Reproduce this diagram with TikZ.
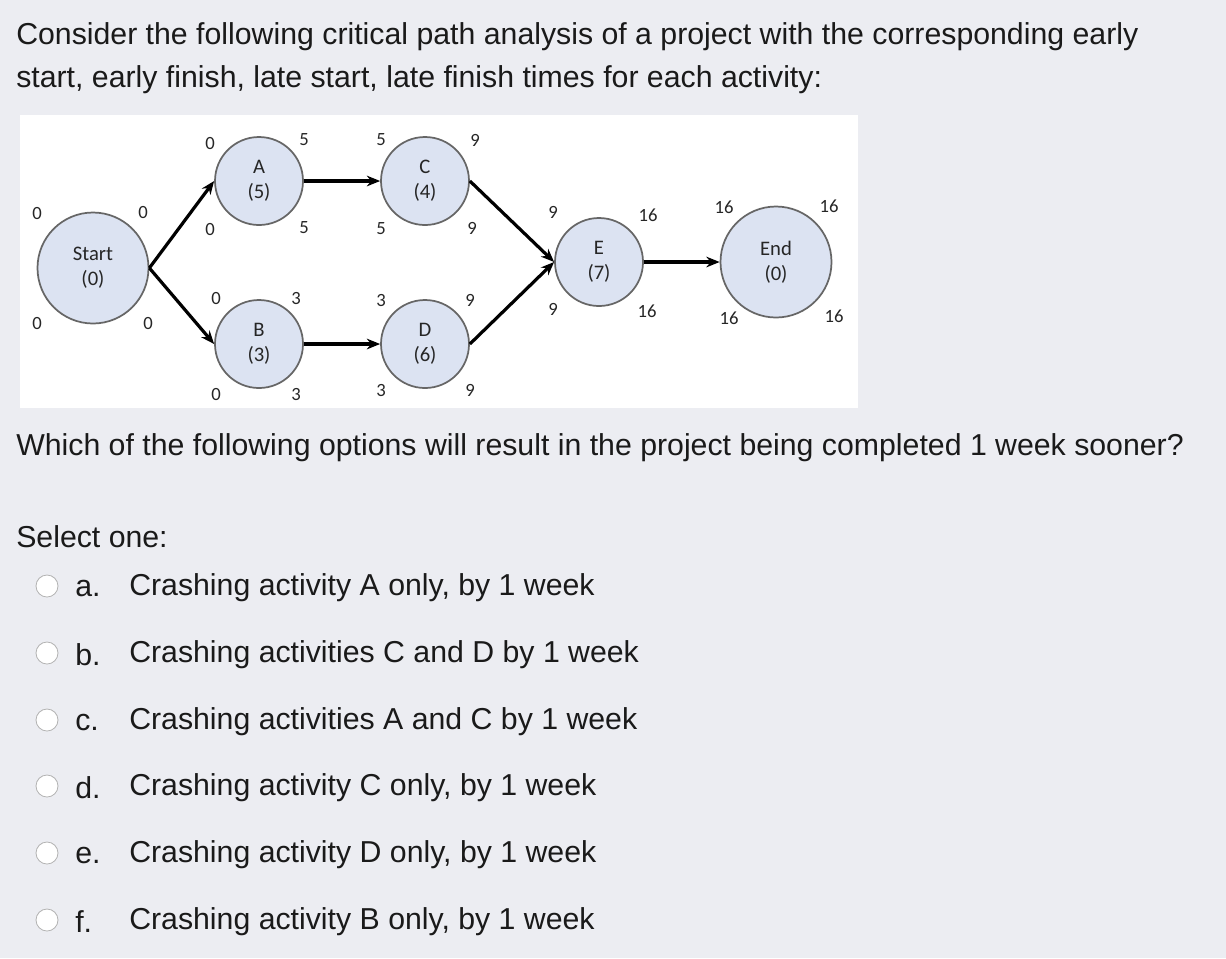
\documentclass[tikz,border=0pt]{standalone}
\usepackage{fontspec}
\setmainfont{Liberation Sans}
\newfontfamily\diag{Carlito}
\usetikzlibrary{arrows.meta}
\definecolor{pagebg}{HTML}{ECEDF2}
\definecolor{nodefill}{HTML}{DCE3F2}
\definecolor{txt}{HTML}{1A1A1A}
\begin{document}
\begin{tikzpicture}[x=0.75pt,y=-0.75pt,
  act/.style={circle,draw=black!60,line width=1.3pt,fill=nodefill,minimum size=#1*0.75pt,inner sep=0pt,align=center,font=\diag\fontsize{15.5}{19}\selectfont,text=black!85},
  num/.style={font=\diag\fontsize{14}{16}\selectfont,text=black!85,inner sep=0pt},
  arr/.style={-{Stealth[length=10pt,width=8pt]},line width=2.4pt},
  qtext/.style={anchor=west,inner sep=0pt,font=\fontsize{22.7}{26}\selectfont,text=txt},
  radio/.style={circle,draw=black!30,fill=white,line width=0.6pt,minimum size=16.5pt,inner sep=0pt}]
\fill[pagebg] (0,0) rectangle (1226,958);
\useasboundingbox (0,0) rectangle (1226,958);
\fill[white] (20,115) rectangle (858,408);
\node[qtext] (l1) at (16,37) {Consider the following critical path analysis of a project with the corresponding early};
\node[qtext] (l2) at (16,80) {start, early finish, late start, late finish times for each activity:};
% nodes
\node[act=111] (S) at (93,268) {Start\\(0)};
\node[act=88] (A) at (259,181) {A\\(5)};
\node[act=88] (C) at (425,181) {C\\(4)};
\node[act=88] (B) at (259,344) {B\\(3)};
\node[act=88] (D) at (425,344) {D\\(6)};
\node[act=88] (E) at (599,262) {E\\(7)};
\node[act=111] (N) at (776,262) {End\\(0)};
\draw[arr] (S.east) -- (A.west);
\draw[arr] (S.east) -- (B.west);
\draw[arr] (A.east) -- (C.west);
\draw[arr] (B.east) -- (D.west);
\draw[arr] (C.east) -- (E.west);
\draw[arr] (D.east) -- (E.west);
\draw[arr] (E.east) -- (N.west);
% numbers
\foreach \t/\x/\y [count=\i] in {0/37/213,0/143/212,0/37/323,0/148/323,
 0/210/143,5/304/140,0/210/229,5/304/228,
 5/381/140,9/475/140,5/381/229,9/472/228,
 0/216/298,3/296/298,0/216/394,3/296/394,
 3/381/300,9/470/300,3/381/390,9/470/390,
 9/553/212,16/648/215,9/553/309,16/647/311,
 16/724/207,16/829/206,16/729/318,16/834/316}
  \node[num] (n\i) at (\x,\y) {\t};
\node[qtext] (q) at (16,448) {Which of the following options will result in the project being completed 1 week sooner?};
\node[qtext] (sel) at (16,537) {Select one:};
\foreach \y/\l/\t [count=\i] in {586/a./Crashing activity A only{,} by 1 week,
  653/b./Crashing activities C and D by 1 week,
  720/c./Crashing activities A and C by 1 week,
  786/d./Crashing activity C only{,} by 1 week,
  853/e./Crashing activity D only{,} by 1 week,
  920/f./Crashing activity B only{,} by 1 week}{
  \node[radio] (r\i) at (47,\y) {};
  \node[qtext] (o\i) at (75,\y+2) {\l};
  \node[qtext] (t\i) at (129,\y+2) {\t};
}
\end{tikzpicture}
\end{document}
